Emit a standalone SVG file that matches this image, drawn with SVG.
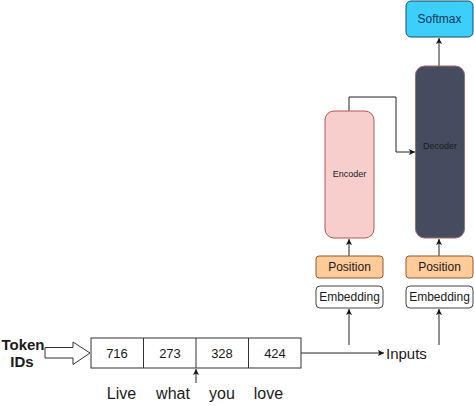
<svg xmlns="http://www.w3.org/2000/svg" width="474" height="406" viewBox="0 0 474 406">
<style>
text{font-family:"Liberation Sans",Arial,sans-serif;fill:#1a1a1a}
.c{stroke:#222;stroke-width:1;fill:none}
.lbl{font-size:12px;text-anchor:middle}
.num{font-size:13px;text-anchor:middle}
.word{font-size:16px;text-anchor:middle}
</style>
<defs>
<marker id="ah" viewBox="0 0 8 8" refX="7" refY="4" markerWidth="7" markerHeight="7" markerUnits="userSpaceOnUse" orient="auto">
<path d="M0,0.5 L7,4 L0,7.5 L1.8,4 Z" fill="#111"/>
</marker>
</defs>
<rect width="474" height="406" fill="#fff"/>
<g id="connectors">
<path class="c" d="M301,353 H384" marker-end="url(#ah)"/>
<path class="c" d="M349,345 V309" marker-end="url(#ah)"/>
<path class="c" d="M439,345 V309" marker-end="url(#ah)"/>
<path class="c" d="M349,256 V239" marker-end="url(#ah)"/>
<path class="c" d="M439,256 V239" marker-end="url(#ah)"/>
<path class="c" d="M439,66 V38" marker-end="url(#ah)"/>
<path class="c" d="M349,111 V97 H396 V152 H415" marker-end="url(#ah)"/>
<path class="c" d="M196,383 V369" marker-end="url(#ah)"/>
</g>
<g id="token-ids">
<text x="23" y="350" style="font-size:15px;font-weight:bold;text-anchor:middle">Token</text>
<text x="22" y="367" style="font-size:15px;font-weight:bold;text-anchor:middle">IDs</text>
<polygon points="45,347.5 73,347.5 73,342 90,353 73,364.5 73,358 45,358" fill="#fff" stroke="#333" stroke-width="1"/>
</g>
<g id="ids-array">
<rect x="91" y="338" width="210" height="30" fill="#fff" stroke="#333" stroke-width="1"/>
<path d="M143.5,338 V368 M196,338 V368 M248.5,338 V368" stroke="#333" stroke-width="1"/>
<text class="num" x="117" y="358">716</text>
<text class="num" x="170" y="358">273</text>
<text class="num" x="222" y="358">328</text>
<text class="num" x="275" y="358">424</text>
</g>
<g id="words">
<text class="word" x="121.5" y="399">Live</text>
<text class="word" x="173" y="399">what</text>
<text class="word" x="222" y="399">you</text>
<text class="word" x="268.5" y="399">love</text>
</g>
<g id="inputs">
<text x="386" y="359" style="font-size:15px">Inputs</text>
</g>
<g id="embedding-enc">
<rect x="316" y="286" width="67" height="22" rx="4" fill="#fff" stroke="#444" stroke-width="1"/>
<text class="lbl" x="349.5" y="301">Embedding</text>
</g>
<g id="embedding-dec">
<rect x="406" y="286" width="67" height="22" rx="4" fill="#fff" stroke="#444" stroke-width="1"/>
<text class="lbl" x="439.5" y="301">Embedding</text>
</g>
<g id="position-enc">
<rect x="316" y="256" width="67" height="22" rx="3" fill="#FFCC99" stroke="#8a5a30" stroke-width="1"/>
<text class="lbl" x="349.5" y="271">Position</text>
</g>
<g id="position-dec">
<rect x="406" y="256" width="67" height="22" rx="3" fill="#FFCC99" stroke="#8a5a30" stroke-width="1"/>
<text class="lbl" x="439.5" y="271">Position</text>
</g>
<g id="encoder">
<rect x="325" y="111" width="49" height="127" rx="9" fill="#F8CECC" stroke="#B85450" stroke-width="1"/>
<text x="349.5" y="177" style="font-size:9px;text-anchor:middle">Encoder</text>
</g>
<g id="decoder">
<rect x="415.5" y="66" width="49" height="172" rx="9" fill="#454C60" stroke="#a86a6a" stroke-width="1"/>
<text x="440" y="149" style="font-size:9px;text-anchor:middle">Decoder</text>
</g>
<g id="softmax">
<rect x="406" y="1" width="67" height="36" rx="5" fill="#3CCFFA" stroke="#1f4b63" stroke-width="1"/>
<text x="439.5" y="23" style="font-size:12px;text-anchor:middle;fill:#17365a">Softmax</text>
</g>
</svg>
